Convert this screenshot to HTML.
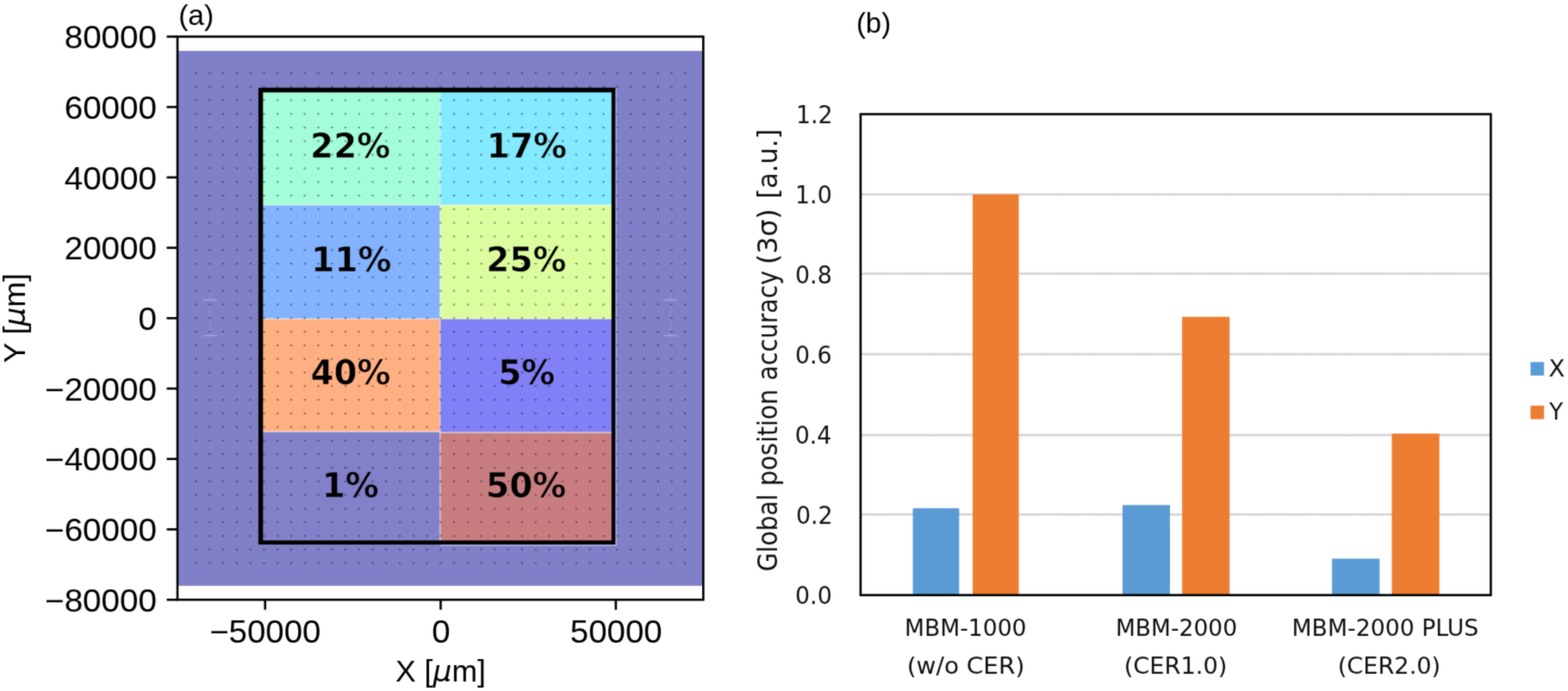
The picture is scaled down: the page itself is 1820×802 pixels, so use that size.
<!DOCTYPE html>
<html lang="en"><head><meta charset="utf-8"><title>Figure</title>
<style>
html,body{margin:0;padding:0;background:#fff;}
body{width:1820px;height:802px;overflow:hidden;}
svg{display:block;}
text{white-space:pre;}
</style></head><body>
<svg width="1820" height="802" viewBox="0 0 1820 802">
<defs><filter id="soft" x="0" y="0" width="1820" height="802" filterUnits="userSpaceOnUse" color-interpolation-filters="sRGB"><feConvolveMatrix order="3" kernelMatrix="0.0277 0.1110 0.0277 0.1110 0.4452 0.1110 0.0277 0.1110 0.0277" divisor="1" edgeMode="duplicate" preserveAlpha="true"/></filter></defs>
<rect width="1820" height="802" fill="#fff"/>
<g filter="url(#soft)">
<rect width="1820" height="802" fill="#fff"/>
<rect x="206.0" y="59.1" width="610.3" height="620.8" fill="#8080c8"/>
<rect x="303.0" y="104.8" width="207.8" height="133.1" fill="#a3fdd8"/>
<rect x="510.8" y="104.8" width="201.8" height="133.1" fill="#84eaff"/>
<rect x="303.0" y="237.9" width="207.8" height="132.2" fill="#83b3ff"/>
<rect x="510.8" y="237.9" width="201.8" height="132.2" fill="#dbfd9e"/>
<rect x="303.0" y="370.1" width="207.8" height="130.9" fill="#ffb082"/>
<rect x="510.8" y="370.1" width="201.8" height="131.8" fill="#8180f6"/>
<rect x="303.0" y="501.0" width="207.8" height="128.6" fill="#8180c9"/>
<rect x="510.8" y="501.9" width="201.8" height="127.7" fill="#c87e80"/>
<path d="M510.8 104.8V629.6" stroke="#f4f8f0" stroke-opacity="0.6" stroke-width="1.5" fill="none"/>
<path d="M303.0 237.9H712.6M303.0 370.1H712.6M303.0 501.0H510.8M510.8 501.9H712.6" stroke="#f4f8f0" stroke-opacity="0.62" stroke-width="1.5" fill="none"/>
<path d="M235.8 348.2H251.6" stroke="#b0b0ea" stroke-opacity="0.85" stroke-width="1.3" fill="none"/>
<path d="M235.8 389.5H251.6" stroke="#b0b0ea" stroke-opacity="0.85" stroke-width="1.3" fill="none"/>
<path d="M243.7 340V397" stroke="#b0b0ea" stroke-opacity="0.3" stroke-width="1.2" fill="none"/>
<path d="M770.4 348.2H786.2" stroke="#b0b0ea" stroke-opacity="0.85" stroke-width="1.3" fill="none"/>
<path d="M770.4 389.5H786.2" stroke="#b0b0ea" stroke-opacity="0.85" stroke-width="1.3" fill="none"/>
<path d="M778.3 340V397" stroke="#b0b0ea" stroke-opacity="0.3" stroke-width="1.2" fill="none"/>
<defs><pattern id="dots" x="219.718" y="76.900" width="15.765" height="15.8" patternUnits="userSpaceOnUse"><ellipse cx="7.883" cy="7.900" rx="1.3" ry="1.1" fill="#10101c" fill-opacity="0.52"/></pattern></defs>
<rect x="219.72" y="76.90" width="583.31" height="584.60" fill="url(#dots)"/>
<path d="M300.9 101.8H713.4a1 1 0 0 1 1 1V631a1 1 0 0 1 -1 1H300.9a1 1 0 0 1 -1 -1V102.8a1 1 0 0 1 1 -1ZM305.3 107.2V627.2H709.8V107.2Z" fill="#000" fill-rule="evenodd"/>
<path d="M715.2 103V632.8H510.8" stroke="#b4c0f0" stroke-opacity="0.8" stroke-width="1.4" fill="none"/>
<rect x="206.0" y="42.5" width="610.3" height="653.6" fill="none" stroke="#000" stroke-width="2.6"/>
<path d="M193.5 42.50H206.0" stroke="#000" stroke-width="2.6"/>
<text transform="translate(74.65,56.19) scale(1.0500,1)" font-family='"Liberation Sans", sans-serif' font-size="36.80" fill="#000">80000</text>
<path d="M193.5 124.20H206.0" stroke="#000" stroke-width="2.6"/>
<text transform="translate(74.65,137.80) scale(1.0500,1)" font-family='"Liberation Sans", sans-serif' font-size="36.80" fill="#000">60000</text>
<path d="M193.5 205.90H206.0" stroke="#000" stroke-width="2.6"/>
<text transform="translate(74.65,219.50) scale(1.0500,1)" font-family='"Liberation Sans", sans-serif' font-size="36.80" fill="#000">40000</text>
<path d="M193.5 287.60H206.0" stroke="#000" stroke-width="2.6"/>
<text transform="translate(74.65,301.20) scale(1.0500,1)" font-family='"Liberation Sans", sans-serif' font-size="36.80" fill="#000">20000</text>
<path d="M193.5 369.30H206.0" stroke="#000" stroke-width="2.6"/>
<text transform="translate(160.61,382.90) scale(1.0500,1)" font-family='"Liberation Sans", sans-serif' font-size="36.80" fill="#000">0</text>
<path d="M193.5 451.00H206.0" stroke="#000" stroke-width="2.6"/>
<text transform="translate(52.08,464.60) scale(1.0500,1)" font-family='"Liberation Sans", sans-serif' font-size="36.80" fill="#000">−20000</text>
<path d="M193.5 532.70H206.0" stroke="#000" stroke-width="2.6"/>
<text transform="translate(52.08,546.30) scale(1.0500,1)" font-family='"Liberation Sans", sans-serif' font-size="36.80" fill="#000">−40000</text>
<path d="M193.5 614.40H206.0" stroke="#000" stroke-width="2.6"/>
<text transform="translate(52.08,628.00) scale(1.0500,1)" font-family='"Liberation Sans", sans-serif' font-size="36.80" fill="#000">−60000</text>
<path d="M193.5 696.10H206.0" stroke="#000" stroke-width="2.6"/>
<text transform="translate(52.08,709.79) scale(1.0500,1)" font-family='"Liberation Sans", sans-serif' font-size="36.80" fill="#000">−80000</text>
<path d="M307.7 696.1V707.7" stroke="#000" stroke-width="2.6"/>
<text transform="translate(243.18,745.63) scale(1.0500,1)" font-family='"Liberation Sans", sans-serif' font-size="36.60" fill="#000">−50000</text>
<path d="M511.5 696.1V707.7" stroke="#000" stroke-width="2.6"/>
<text transform="translate(501.34,745.63) scale(1.0500,1)" font-family='"Liberation Sans", sans-serif' font-size="36.60" fill="#000">0</text>
<path d="M714.8 696.1V707.7" stroke="#000" stroke-width="2.6"/>
<text transform="translate(661.79,745.63) scale(1.0500,1)" font-family='"Liberation Sans", sans-serif' font-size="36.60" fill="#000">50000</text>
<text transform="translate(459.09,790.8) scale(1.0140,1)" font-family='"Liberation Sans", sans-serif' font-size="35.0" fill="#000">X [<tspan font-family='"DejaVu Sans", sans-serif' font-style="italic" font-size="33.95">μ</tspan>m]</text>
<text transform="translate(28.8,421.21) rotate(-90) scale(1.0140,1)" font-family='"Liberation Sans", sans-serif' font-size="35.0" fill="#000">Y [<tspan font-family='"DejaVu Sans", sans-serif' font-style="italic" font-size="33.95">μ</tspan>m]</text>
<text transform="translate(360.11,183.02) scale(0.9950,1)" font-family='"DejaVu Sans", sans-serif' font-size="39.10" font-weight="bold" fill="#000" stroke="#a3fdd8" stroke-width="0.55">22%</text>
<text transform="translate(564.82,183.02) scale(0.9950,1)" font-family='"DejaVu Sans", sans-serif' font-size="39.10" font-weight="bold" fill="#000" stroke="#84eaff" stroke-width="0.55">17%</text>
<text transform="translate(361.32,314.52) scale(0.9950,1)" font-family='"DejaVu Sans", sans-serif' font-size="39.10" font-weight="bold" fill="#000" stroke="#83b3ff" stroke-width="0.55">11%</text>
<text transform="translate(564.31,314.52) scale(0.9950,1)" font-family='"DejaVu Sans", sans-serif' font-size="39.10" font-weight="bold" fill="#000" stroke="#dbfd9e" stroke-width="0.55">25%</text>
<text transform="translate(360.39,445.62) scale(0.9950,1)" font-family='"DejaVu Sans", sans-serif' font-size="39.10" font-weight="bold" fill="#000" stroke="#ffb082" stroke-width="0.55">40%</text>
<text transform="translate(578.14,445.62) scale(0.9950,1)" font-family='"DejaVu Sans", sans-serif' font-size="39.10" font-weight="bold" fill="#000" stroke="#8180f6" stroke-width="0.55">5%</text>
<text transform="translate(373.76,577.12) scale(0.9950,1)" font-family='"DejaVu Sans", sans-serif' font-size="39.10" font-weight="bold" fill="#000" stroke="#8180c9" stroke-width="0.55">1%</text>
<text transform="translate(564.06,577.12) scale(0.9950,1)" font-family='"DejaVu Sans", sans-serif' font-size="39.10" font-weight="bold" fill="#000" stroke="#c87e80" stroke-width="0.55">50%</text>
<text transform="translate(207.18,29.10) scale(1.0000,1)" font-family='"Liberation Sans", sans-serif' font-size="33.60" fill="#000">(a)</text>
<text transform="translate(993.93,37.60) scale(0.9900,1)" font-family='"Liberation Sans", sans-serif' font-size="33.20" fill="#000">(b)</text>
<path d="M998.9 225.70H1730.4" stroke="#dcdcdc" stroke-width="2.8"/>
<path d="M998.9 225.70H1730.4" stroke="#c4c4c4" stroke-opacity="0.55" stroke-width="1.6" stroke-dasharray="2.8 1.4"/>
<path d="M998.9 317.70H1730.4" stroke="#dcdcdc" stroke-width="2.8"/>
<path d="M998.9 317.70H1730.4" stroke="#c4c4c4" stroke-opacity="0.55" stroke-width="1.6" stroke-dasharray="2.8 1.4"/>
<path d="M998.9 411.20H1730.4" stroke="#dcdcdc" stroke-width="2.8"/>
<path d="M998.9 411.20H1730.4" stroke="#c4c4c4" stroke-opacity="0.55" stroke-width="1.6" stroke-dasharray="2.8 1.4"/>
<path d="M998.9 505.00H1730.4" stroke="#dcdcdc" stroke-width="2.8"/>
<path d="M998.9 505.00H1730.4" stroke="#c4c4c4" stroke-opacity="0.55" stroke-width="1.6" stroke-dasharray="2.8 1.4"/>
<path d="M998.9 597.10H1730.4" stroke="#dcdcdc" stroke-width="2.8"/>
<path d="M998.9 597.10H1730.4" stroke="#c4c4c4" stroke-opacity="0.55" stroke-width="1.6" stroke-dasharray="2.8 1.4"/>
<rect x="1059.5" y="589.9" width="53.8" height="100.8" fill="#5b9bd5"/>
<rect x="1129.0" y="225.6" width="53.5" height="465.1" fill="#ed7d31"/>
<rect x="1302.9" y="586.2" width="55.1" height="104.5" fill="#5b9bd5"/>
<rect x="1372.1" y="367.7" width="55.1" height="323.0" fill="#ed7d31"/>
<rect x="1546.1" y="648.4" width="55.2" height="42.3" fill="#5b9bd5"/>
<rect x="1615.5" y="503.3" width="55.2" height="187.4" fill="#ed7d31"/>
<rect x="998.9" y="132.5" width="731.5" height="558.2" fill="none" stroke="#000" stroke-width="2.6"/>
<text transform="translate(923.90,143.28) scale(0.9700,1)" font-family='"DejaVu Sans", sans-serif' font-size="27.60" fill="#101010">1.2</text>
<text transform="translate(923.10,236.04) scale(0.9700,1)" font-family='"DejaVu Sans", sans-serif' font-size="27.60" fill="#101010">1.0</text>
<text transform="translate(923.10,329.07) scale(0.9700,1)" font-family='"DejaVu Sans", sans-serif' font-size="27.60" fill="#101010">0.8</text>
<text transform="translate(922.96,422.11) scale(0.9700,1)" font-family='"DejaVu Sans", sans-serif' font-size="27.60" fill="#101010">0.6</text>
<text transform="translate(922.70,515.14) scale(0.9700,1)" font-family='"DejaVu Sans", sans-serif' font-size="27.60" fill="#101010">0.4</text>
<text transform="translate(923.90,608.24) scale(0.9700,1)" font-family='"DejaVu Sans", sans-serif' font-size="27.60" fill="#101010">0.2</text>
<text transform="translate(923.10,701.21) scale(0.9700,1)" font-family='"DejaVu Sans", sans-serif' font-size="27.60" fill="#101010">0.0</text>
<text transform="translate(1050.07,737.90) scale(0.9783,1)" font-family='"DejaVu Sans", sans-serif' font-size="27.20" fill="#101010">MBM-1000</text>
<text transform="translate(1052.72,781.60) scale(1.0275,1)" font-family='"DejaVu Sans", sans-serif' font-size="27.20" fill="#101010">(w/o CER)</text>
<text transform="translate(1294.98,737.90) scale(0.9761,1)" font-family='"DejaVu Sans", sans-serif' font-size="27.20" fill="#101010">MBM-2000</text>
<text transform="translate(1304.68,781.60) scale(1.0015,1)" font-family='"DejaVu Sans", sans-serif' font-size="27.20" fill="#101010">(CER1.0)</text>
<text transform="translate(1499.56,737.90) scale(0.9830,1)" font-family='"DejaVu Sans", sans-serif' font-size="27.20" fill="#101010">MBM-2000 PLUS</text>
<text transform="translate(1552.69,781.60) scale(1.0006,1)" font-family='"DejaVu Sans", sans-serif' font-size="27.20" fill="#101010">(CER2.0)</text>
<rect x="1776.5" y="420.2" width="15.7" height="15.7" fill="#5b9bd5"/>
<rect x="1776.5" y="470.8" width="15.7" height="15.7" fill="#ed7d31"/>
<text transform="translate(1797.51,436.95) scale(1.0229,1)" font-family='"DejaVu Sans", sans-serif' font-size="27.00" fill="#101010">X</text>
<text transform="translate(1798.33,487.40) scale(0.9677,1)" font-family='"DejaVu Sans", sans-serif' font-size="27.00" fill="#101010">Y</text>
<text transform="translate(901.5,661.7) rotate(-90)" font-family='"DejaVu Sans", sans-serif' font-size="32.5" fill="#101010"><tspan x="-1.55" textLength="89.86" lengthAdjust="spacingAndGlyphs">Global</tspan> <tspan x="97.75" textLength="112.22" lengthAdjust="spacingAndGlyphs">position</tspan> <tspan x="220.31" textLength="127.25" lengthAdjust="spacingAndGlyphs">accuracy</tspan> <tspan x="354.72" textLength="64.67" lengthAdjust="spacingAndGlyphs">(3σ)</tspan> <tspan x="431.12" textLength="80.87" lengthAdjust="spacingAndGlyphs">[a.u.]</tspan></text>
</g>
</svg>
</body></html>
